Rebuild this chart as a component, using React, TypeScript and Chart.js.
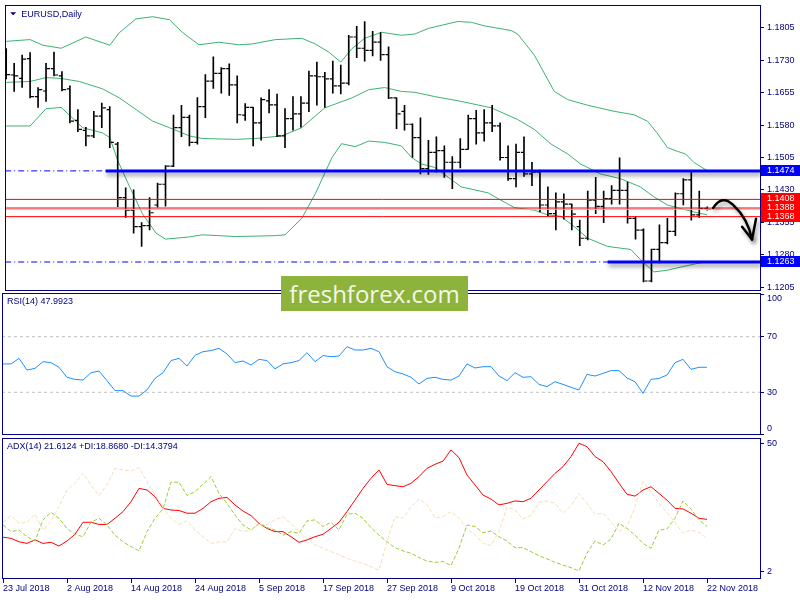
import React, { useEffect, useRef } from "react";
import { Chart, registerables } from "chart.js";

Chart.register(...registerables);

// ---------------- data ----------------
const dateLabels = ["23 Jul 2018", "2 Aug 2018", "14 Aug 2018", "24 Aug 2018", "5 Sep 2018", "17 Sep 2018", "27 Sep 2018", "9 Oct 2018", "19 Oct 2018", "31 Oct 2018", "12 Nov 2018", "22 Nov 2018"];
const dateTickIndex = [0, 8, 16, 24, 32, 40, 48, 56, 64, 72, 80, 88];

const opens = [
  1.1711, 1.1696, 1.1688, 1.1734, 1.1646, 1.1659, 1.1711, 1.1694, 1.1664, 1.1591,
  1.1568, 1.1555, 1.1601, 1.1616, 1.1536, 1.1412, 1.1383, 1.1345, 1.1347, 1.1395,
  1.1443, 1.1485, 1.1574, 1.1598, 1.1540, 1.1623, 1.1682, 1.1700, 1.1711, 1.1673,
  1.1603, 1.1621, 1.1585, 1.1636, 1.1627, 1.1555, 1.1595, 1.1606, 1.1631, 1.1694,
  1.1692, 1.1687, 1.1671, 1.1677, 1.1784, 1.1758, 1.1753, 1.1772, 1.1743, 1.1643,
  1.1612, 1.1582, 1.1551, 1.1479, 1.1517, 1.1521, 1.1494, 1.1494, 1.1524, 1.1595,
  1.1562, 1.1585, 1.1578, 1.1505, 1.1456, 1.1517, 1.1467, 1.1471, 1.1395, 1.1375,
  1.1402, 1.1397, 1.1345, 1.1318, 1.1406, 1.1392, 1.1410, 1.1429, 1.1429, 1.1364,
  1.1337, 1.1219, 1.1292, 1.1308, 1.1334, 1.1421, 1.1453, 1.1372, 1.1387,
];
const highs = [
  1.1757, 1.1723, 1.1742, 1.1748, 1.1667, 1.1723, 1.1749, 1.1704, 1.1671, 1.1616,
  1.1575, 1.1612, 1.1631, 1.1623, 1.1540, 1.1435, 1.1430, 1.1354, 1.1412, 1.1446,
  1.1486, 1.1603, 1.1626, 1.1603, 1.1644, 1.1697, 1.1738, 1.1713, 1.1722, 1.1694,
  1.1630, 1.1621, 1.1643, 1.1662, 1.1652, 1.1618, 1.1646, 1.1646, 1.1705, 1.1726,
  1.1702, 1.1728, 1.1719, 1.1788, 1.1809, 1.1820, 1.1797, 1.1794, 1.1761, 1.1643,
  1.1626, 1.1583, 1.1597, 1.1545, 1.1553, 1.1532, 1.1507, 1.1549, 1.1603, 1.1614,
  1.1616, 1.1626, 1.1585, 1.1532, 1.1536, 1.1553, 1.1494, 1.1476, 1.1437, 1.1423,
  1.1421, 1.1397, 1.1360, 1.1427, 1.1459, 1.1427, 1.1440, 1.1504, 1.1448, 1.1368,
  1.1340, 1.1293, 1.1349, 1.1364, 1.1423, 1.1456, 1.1473, 1.1427, 1.1391,
];
const lows = [
  1.1687, 1.1658, 1.1667, 1.1643, 1.1621, 1.1635, 1.1694, 1.1659, 1.1585, 1.1565,
  1.1532, 1.1551, 1.1574, 1.1528, 1.1391, 1.1366, 1.1330, 1.1299, 1.1337, 1.1390,
  1.1392, 1.1484, 1.1553, 1.1532, 1.1536, 1.1597, 1.1665, 1.1654, 1.1649, 1.1585,
  1.1591, 1.1532, 1.1545, 1.1608, 1.1553, 1.1528, 1.1568, 1.1575, 1.1611, 1.1626,
  1.1621, 1.1654, 1.1652, 1.1673, 1.1736, 1.1728, 1.1740, 1.1730, 1.1641, 1.1572,
  1.1568, 1.1505, 1.1467, 1.1466, 1.1471, 1.1459, 1.1433, 1.1481, 1.1524, 1.1536,
  1.1543, 1.1565, 1.1499, 1.1452, 1.1437, 1.1461, 1.1440, 1.1379, 1.1369, 1.1337,
  1.1362, 1.1337, 1.1301, 1.1314, 1.1375, 1.1354, 1.1397, 1.1397, 1.1353, 1.1316,
  1.1217, 1.1217, 1.1261, 1.1305, 1.1324, 1.1395, 1.1360, 1.1366, 1.1383,
];
const closes = [
  1.1697, 1.1694, 1.1733, 1.1646, 1.1662, 1.1711, 1.1696, 1.1662, 1.1589, 1.1570,
  1.1555, 1.1601, 1.1620, 1.1540, 1.1412, 1.1383, 1.1345, 1.1347, 1.1377, 1.1443,
  1.1485, 1.1574, 1.1598, 1.1540, 1.1623, 1.1682, 1.1700, 1.1711, 1.1673, 1.1604,
  1.1621, 1.1585, 1.1639, 1.1627, 1.1555, 1.1595, 1.1606, 1.1631, 1.1694, 1.1692,
  1.1687, 1.1671, 1.1677, 1.1784, 1.1758, 1.1753, 1.1772, 1.1743, 1.1643, 1.1606,
  1.1582, 1.1551, 1.1479, 1.1517, 1.1521, 1.1494, 1.1494, 1.1524, 1.1595, 1.1562,
  1.1585, 1.1578, 1.1505, 1.1456, 1.1517, 1.1467, 1.1471, 1.1395, 1.1375, 1.1402,
  1.1397, 1.1374, 1.1318, 1.1406, 1.1392, 1.1410, 1.1429, 1.1429, 1.1364, 1.1337,
  1.1219, 1.1292, 1.1308, 1.1334, 1.1421, 1.1453, 1.1372, 1.1387, 1.1385,
];

// Bollinger band vertices (bar index, price)
const bbUpperIdx = [0, 3, 4.6, 6.9, 10, 13, 14.2, 16.3, 18.4, 20.5, 22.1, 24.2, 26.7, 29.2, 30.9, 33.8, 37.1, 38.8, 40.5, 42, 43.4, 45, 47.1, 49.6, 51.3, 53, 56.7, 58.4, 60, 63.4, 64.2, 66.3, 68.8, 70.5, 73, 76.3, 78.8, 80.5, 81.7, 83, 84.3, 85.3, 86.3, 87.6, 88];
const bbUpperVal = [1.1774, 1.1778, 1.1765, 1.1758, 1.1784, 1.1765, 1.1794, 1.1826, 1.1831, 1.1824, 1.1795, 1.1766, 1.1772, 1.1766, 1.1768, 1.1778, 1.1781, 1.1768, 1.1749, 1.1726, 1.1757, 1.1781, 1.1795, 1.1788, 1.1791, 1.1804, 1.1820, 1.1818, 1.1810, 1.1799, 1.1791, 1.1742, 1.1658, 1.1639, 1.1626, 1.1612, 1.1604, 1.1589, 1.1562, 1.1528, 1.1519, 1.1513, 1.1494, 1.1479, 1.1475];
const bbMidIdx = [0, 3, 5, 6.9, 9.2, 12.1, 14.2, 16.3, 18.4, 20.5, 23, 24.6, 28.8, 31.3, 34.6, 37.1, 40, 43.4, 45.5, 47.5, 49.6, 51.3, 53.8, 57.1, 60.9, 64.2, 66.3, 68.4, 70.5, 72.1, 74.6, 77.1, 79.6, 81.3, 83, 84.6, 86.3, 88];
const bbMidVal = [1.1679, 1.1681, 1.1690, 1.1688, 1.1681, 1.1664, 1.1643, 1.1616, 1.1589, 1.1574, 1.1555, 1.1549, 1.1547, 1.1549, 1.1555, 1.1574, 1.1620, 1.1643, 1.1662, 1.1667, 1.1658, 1.1656, 1.1646, 1.1635, 1.1620, 1.1593, 1.1570, 1.1536, 1.1513, 1.1490, 1.1467, 1.1456, 1.1437, 1.1414, 1.1395, 1.1387, 1.1379, 1.1372];
const bbLowIdx = [0, 3, 5, 6.9, 9.6, 12.1, 13, 14, 15.5, 17.1, 18.8, 20, 23, 24.6, 28.8, 33.8, 35, 37.1, 38.8, 40.9, 42.1, 43.8, 45.5, 47.5, 49.6, 50.9, 52.1, 53.8, 55.5, 57.1, 60.5, 62.1, 63.8, 66.3, 68, 69.6, 71.3, 73, 75.5, 78.4, 79.6, 81.3, 83, 85.1, 87.1, 88];
const bbLowVal = [1.1578, 1.1578, 1.1618, 1.1621, 1.1574, 1.1562, 1.1551, 1.1498, 1.1437, 1.1375, 1.1330, 1.1316, 1.1321, 1.1326, 1.1322, 1.1324, 1.1326, 1.1364, 1.1421, 1.1505, 1.1537, 1.1530, 1.1543, 1.1540, 1.1532, 1.1505, 1.1490, 1.1482, 1.1459, 1.1437, 1.1423, 1.1406, 1.1389, 1.1383, 1.1372, 1.1369, 1.1345, 1.1318, 1.1299, 1.1292, 1.1269, 1.1240, 1.1244, 1.1253, 1.1261, 1.1263];

const rsiValues = [
  50.4, 50.4, 54.4, 46.0, 47.2, 52.0, 51.3, 48.0, 40.8, 39.3,
  38.8, 44.1, 45.3, 38.4, 31.2, 31.2, 27.3, 27.3, 31.7, 40.0,
  44.1, 52.8, 54.4, 48.9, 56.6, 59.2, 60.0, 61.6, 57.6, 51.3,
  52.5, 49.6, 53.7, 52.8, 46.8, 50.4, 51.3, 52.8, 58.5, 52.0,
  56.4, 55.6, 56.1, 62.8, 60.4, 60.4, 61.6, 59.2, 48.4, 44.8,
  43.2, 40.8, 36.0, 40.0, 40.8, 39.3, 38.8, 41.7, 50.4, 47.5,
  48.4, 48.4, 41.7, 38.4, 44.1, 40.8, 41.2, 35.7, 34.1, 37.6,
  35.7, 33.6, 31.7, 42.9, 41.7, 43.6, 45.6, 45.6, 40.3, 37.6,
  29.3, 39.3, 40.0, 42.4, 51.3, 53.7, 46.5, 48.0, 48.0,
];
const adxValues = [
  14.9, 14.5, 13.2, 12.6, 13.9, 12.6, 13.0, 11.6, 13.5, 16.0,
  20.5, 20.5, 19.7, 19.7, 22.0, 24.5, 28.2, 33.2, 32.6, 30.1,
  25.7, 25.1, 24.9, 23.9, 23.9, 25.7, 28.2, 29.5, 29.8, 27.0,
  24.7, 23.0, 20.1, 18.2, 17.0, 17.0, 15.1, 13.0, 13.9, 15.1,
  16.0, 18.2, 20.5, 24.5, 28.8, 33.2, 37.0, 40.1, 34.7, 34.2,
  33.8, 35.1, 37.6, 40.7, 42.2, 43.4, 47.6, 44.7, 38.2, 34.5,
  30.7, 29.2, 27.0, 27.6, 28.5, 28.2, 29.5, 32.6, 35.7, 38.8,
  41.3, 45.1, 50.1, 48.8, 45.1, 43.2, 39.5, 35.1, 31.0, 30.3,
  32.6, 33.8, 31.3, 28.8, 25.7, 25.5, 23.9, 22.0, 21.6,
];
const plusDiValues = [
  19.5, 17.0, 17.6, 15.1, 13.5, 21.4, 24.2, 22.0, 18.2, 16.0,
  15.1, 20.5, 22.0, 19.5, 15.7, 13.2, 11.4, 9.8, 17.0, 22.0,
  25.5, 35.5, 35.5, 30.5, 32.0, 34.7, 37.6, 31.3, 27.6, 23.2,
  19.5, 17.6, 20.1, 18.5, 17.6, 15.7, 17.0, 16.4, 21.0, 21.4,
  18.9, 20.5, 17.6, 23.5, 23.9, 22.0, 18.5, 15.7, 13.2, 11.0,
  9.8, 8.9, 7.3, 6.0, 5.5, 5.8, 4.3, 10.8, 19.5, 18.9,
  16.6, 17.2, 15.1, 13.5, 11.0, 11.0, 9.5, 8.0, 6.8, 5.5,
  4.5, 3.5, 2.3, 8.9, 13.5, 12.0, 14.2, 20.1, 18.2, 15.7,
  12.6, 10.8, 17.6, 18.0, 22.0, 28.5, 25.5, 21.4, 18.9,
];
const minusDiValues = [
  20.5, 23.0, 20.1, 20.5, 23.5, 17.6, 21.0, 26.4, 32.6, 35.1,
  38.8, 34.5, 30.5, 34.5, 40.7, 40.1, 39.7, 41.0, 35.7, 30.7,
  26.0, 22.0, 19.7, 21.0, 17.6, 15.1, 12.6, 13.2, 13.2, 18.2,
  17.0, 17.6, 19.7, 19.7, 21.4, 22.6, 20.1, 17.0, 14.5, 12.0,
  10.8, 9.5, 8.3, 7.0, 6.0, 5.1, 3.9, 2.6, 13.2, 22.6,
  22.0, 26.3, 29.2, 27.2, 22.2, 22.6, 24.5, 22.0, 18.2, 15.7,
  12.6, 11.8, 17.0, 26.3, 25.1, 21.7, 23.2, 28.0, 28.5, 27.6,
  23.9, 26.7, 31.3, 27.6, 23.5, 23.9, 20.7, 17.0, 18.9, 26.3,
  35.7, 32.0, 27.6, 24.2, 20.5, 16.4, 17.6, 16.7, 14.4,
];

const priceTicks = [1.1805, 1.173, 1.1655, 1.158, 1.1505, 1.143, 1.1355, 1.128, 1.1205];
const blueLevels = [1.1474, 1.1263];
const blueThickStart = [12.5, 75.5];
const redLevels = [1.1408, 1.1388, 1.1368];
const lastPrice = 1.1385;
const rsiTicks = [0, 30, 70, 100];
const rsiLevels = [70, 30];
const adxTicks = [2, 50];
const arrowIdx = [88.75, 89.875, 91.25, 93.125, 93.625, 92.375, 94.125];
const arrowPrice = [1.13882, 1.14203, 1.13951, 1.1363, 1.13149, 1.13447, 1.1363];

const titleText = "EURUSD,Daily";
const rsiTitle = "RSI(14) 47.9923";
const adxTitle = "ADX(14) 21.6124 +DI:18.8680 -DI:14.3794";

// ---------------- styling ----------------
const X_MIN = -0.125;
const X_MAX = 94.625;
const PRICE_MIN = 1.119584;
const PRICE_MAX = 1.185767;
const RSI_MIN = -0.7;
const RSI_MAX = 101.4;
const ADX_MIN = -0.733;
const ADX_MAX = 52.06;
const NAVY = "#000080";
const FAMILY = '"Liberation Sans", Arial, sans-serif';
const FONT = { family: FAMILY, size: 9 };
const BB_COLOR = "#3cb371";

Chart.defaults.font.family = FAMILY;

function hLine(y: number, color: string, width: number, dash: number[], x0: number, order: number) {
  return {
    type: "line",
    data: [{ x: x0, y }, { x: X_MAX, y }],
    borderColor: color,
    borderWidth: width,
    borderDash: dash,
    pointRadius: 0,
    order,
  } as any;
}

function series(values: number[], color: string, dash: number[], order: number) {
  return {
    type: "line",
    data: values.map((v, i) => ({ x: i, y: v })),
    borderColor: color,
    borderWidth: 1,
    borderDash: dash,
    pointRadius: 0,
    tension: 0,
    order,
  } as any;
}

function knots(xs: number[], ys: number[]) {
  return {
    type: "line",
    data: xs.map((x, i) => ({ x, y: ys[i] })),
    borderColor: BB_COLOR,
    borderWidth: 1,
    pointRadius: 0,
    tension: 0,
    order: 9,
  } as any;
}

const framePlugin = {
  id: "frame",
  afterDraw(chart: any) {
    const { ctx, chartArea: a } = chart;
    ctx.save();
    ctx.strokeStyle = NAVY;
    ctx.lineWidth = 1;
    const l = Math.round(a.left) + 0.5;
    const r = Math.round(a.right) + 0.5;
    const t = Math.round(a.top) + 0.5;
    const b = Math.round(a.bottom) - 0.5;
    ctx.strokeRect(l, t, r - l, b - t);
    ctx.restore();
  },
};

const shadowPlugin = {
  id: "shadowLines",
  beforeDatasetDraw(chart: any, args: any) {
    const ds = chart.data.datasets[args.index];
    if (ds.shadow) {
      const c = chart.ctx;
      c.save();
      c.shadowColor = "rgba(0,0,0,0.45)";
      c.shadowBlur = 4;
      c.shadowOffsetX = 1;
      c.shadowOffsetY = 3;
    }
  },
  afterDatasetDraw(chart: any, args: any) {
    const ds = chart.data.datasets[args.index];
    if (ds.shadow) chart.ctx.restore();
  },
};

const priceOverlay = {
  id: "priceOverlay",
  afterDraw(chart: any) {
    const { ctx, chartArea: a, scales } = chart;
    const xs = scales.x;
    const ys = scales.y;
    ctx.save();
    ctx.fillStyle = NAVY;
    ctx.beginPath();
    ctx.moveTo(a.left + 5, a.top + 7);
    ctx.lineTo(a.left + 11, a.top + 7);
    ctx.lineTo(a.left + 8, a.top + 10);
    ctx.closePath();
    ctx.fill();
    ctx.font = `9px ${FAMILY}`;
    ctx.textBaseline = "middle";
    ctx.textAlign = "left";
    ctx.fillText(titleText, a.left + 16, a.top + 9);
    const boxes: [number, string][] = [
      ...blueLevels.map((v) => [v, "#0000ff"] as [number, string]),
      ...redLevels.map((v) => [v, "#ff0000"] as [number, string]),
    ];
    for (const [v, c] of boxes) {
      const y = ys.getPixelForValue(v);
      ctx.fillStyle = c;
      ctx.fillRect(a.right + 1, Math.round(y) - 6, 39, 11);
      ctx.fillStyle = "#ffffff";
      ctx.fillText(v.toFixed(4), a.right + 7, Math.round(y) - 0.5);
    }
    const p = arrowIdx.map((x, k) => [xs.getPixelForValue(x), ys.getPixelForValue(arrowPrice[k])]);
    ctx.strokeStyle = "#000";
    ctx.lineWidth = 2.5;
    ctx.lineCap = "round";
    ctx.lineJoin = "round";
    ctx.shadowColor = "rgba(0,0,0,0.4)";
    ctx.shadowBlur = 4;
    ctx.shadowOffsetX = 2;
    ctx.shadowOffsetY = 3;
    ctx.beginPath();
    ctx.moveTo(p[0][0], p[0][1]);
    ctx.quadraticCurveTo(p[1][0], p[1][1], p[2][0], p[2][1]);
    ctx.quadraticCurveTo(p[3][0], p[3][1], p[4][0], p[4][1]);
    ctx.stroke();
    ctx.beginPath();
    ctx.moveTo(p[5][0], p[5][1]);
    ctx.lineTo(p[4][0], p[4][1]);
    ctx.lineTo(p[6][0], p[6][1]);
    ctx.stroke();
    ctx.restore();
  },
};

const rsiOverlay = {
  id: "rsiOverlay",
  afterDraw(chart: any) {
    const { ctx, chartArea: a, scales } = chart;
    ctx.save();
    ctx.fillStyle = NAVY;
    ctx.font = `9px ${FAMILY}`;
    ctx.textBaseline = "middle";
    ctx.textAlign = "left";
    ctx.fillText(rsiTitle, a.left + 5, a.top + 9);
    const ys = scales.y;
    ctx.fillText("100", a.right + 7, ys.getPixelForValue(100) + 4);
    ctx.fillText("0", a.right + 7, ys.getPixelForValue(0) - 6);
    ctx.restore();
  },
};

const adxOverlay = {
  id: "adxOverlay",
  afterDraw(chart: any) {
    const { ctx, chartArea: a } = chart;
    ctx.save();
    ctx.fillStyle = NAVY;
    ctx.font = `9px ${FAMILY}`;
    ctx.textBaseline = "middle";
    ctx.textAlign = "left";
    ctx.fillText(adxTitle, a.left + 5, a.top + 9);
    ctx.restore();
  },
};

function yAxis(min: number, max: number, ticks: number[], cb: (v: number) => string) {
  return {
    type: "linear",
    position: "right",
    min,
    max,
    afterBuildTicks: (s: any) => {
      s.ticks = ticks.map((v) => ({ value: v }));
    },
    afterFit: (s: any) => {
      s.width = 40;
      s.paddingTop = 0;
      s.paddingBottom = 0;
    },
    ticks: { autoSkip: false, padding: 3, color: NAVY, font: FONT, callback: (v: any) => cb(Number(v)) },
    grid: { drawOnChartArea: false, drawTicks: true, tickLength: 4, color: NAVY },
    border: { display: false },
  } as any;
}

const hiddenX = { type: "linear", min: X_MIN, max: X_MAX, display: false, offset: false } as any;

const baseOptions = {
  responsive: false,
  maintainAspectRatio: false,
  animation: false,
  devicePixelRatio: 1,
  events: [],
  plugins: { legend: { display: false }, tooltip: { enabled: false } },
};

function priceConfig(): any {
  return {
    type: "scatter",
    data: {
      datasets: [
        knots(bbUpperIdx, bbUpperVal),
        knots(bbMidIdx, bbMidVal),
        knots(bbLowIdx, bbLowVal),
        {
          type: "bar",
          data: opens.map((_, i) => ({ x: i, y: [lows[i], highs[i]] })),
          backgroundColor: "#000000",
          barThickness: 1,
          borderWidth: 0,
          order: 8,
        },
        {
          type: "scatter",
          data: opens.map((o, i) => ({ x: i - 0.1875, y: o })),
          pointStyle: "line",
          pointRadius: 1.6,
          pointBorderColor: "#000000",
          pointBackgroundColor: "#000000",
          pointBorderWidth: 1.2,
          order: 7,
        },
        {
          type: "scatter",
          data: closes.map((c, i) => ({ x: i + 0.3125, y: c })),
          pointStyle: "line",
          pointRadius: 1.6,
          pointBorderColor: "#000000",
          pointBackgroundColor: "#000000",
          pointBorderWidth: 1.2,
          order: 7,
        },
        hLine(lastPrice, "#c0c0c0", 1, [], X_MIN, 6),
        ...redLevels.map((v) => hLine(v, "#ff0000", 1, [], X_MIN, 5)),
        ...blueLevels.map((v) => hLine(v, "#0000ff", 1, [6, 3, 1, 3], X_MIN, 4)),
        ...blueLevels.map((v, k) => ({ ...hLine(v, "#0000ff", 3, [], blueThickStart[k], 3), shadow: true })),
      ],
    },
    options: {
      ...baseOptions,
      layout: { padding: { left: 2, top: 2, right: 0, bottom: 9 } },
      scales: {
        x: hiddenX,
        y: yAxis(PRICE_MIN, PRICE_MAX, priceTicks, (v) => v.toFixed(4)),
      },
    },
    plugins: [shadowPlugin, framePlugin, priceOverlay],
  };
}

function rsiConfig(): any {
  return {
    type: "scatter",
    data: {
      datasets: [
        ...rsiLevels.map((v) => hLine(v, "#c0c0c0", 1, [3, 3], X_MIN, 2)),
        series(rsiValues, "#1e90ff", [], 1),
      ],
    },
    options: {
      ...baseOptions,
      layout: { padding: { left: 2, top: 9, right: 0, bottom: 9 } },
      scales: {
        x: hiddenX,
        y: yAxis(RSI_MIN, RSI_MAX, rsiTicks, (v) => (v === 0 || v === 100 ? "" : String(v))),
      },
    },
    plugins: [framePlugin, rsiOverlay],
  };
}

function adxConfig(): any {
  return {
    type: "scatter",
    data: {
      datasets: [
        series(adxValues, "#ff0000", [], 3),
        series(plusDiValues, "#9acd32", [4, 2], 2),
        series(minusDiValues, "#f5deb3", [4, 2], 1),
      ],
    },
    options: {
      ...baseOptions,
      layout: { padding: { left: 2, top: 10, right: 0, bottom: 0 } },
      scales: {
        x: {
          type: "linear",
          position: "bottom",
          min: X_MIN,
          max: X_MAX,
          offset: false,
          afterBuildTicks: (s: any) => {
            s.ticks = dateTickIndex.map((v) => ({ value: v }));
          },
          afterFit: (s: any) => {
            s.height = 21;
            s.paddingLeft = 0;
            s.paddingRight = 0;
          },
          ticks: {
            autoSkip: false,
            maxRotation: 0,
            minRotation: 0,
            align: "start",
            padding: 0,
            color: NAVY,
            font: FONT,
            callback: (v: any) => dateLabels[dateTickIndex.indexOf(Number(v))],
          },
          grid: { drawOnChartArea: false, drawTicks: true, tickLength: 4, color: NAVY },
          border: { display: false },
        },
        y: yAxis(ADX_MIN, ADX_MAX, adxTicks, (v) => String(v)),
      },
    },
    plugins: [framePlugin, adxOverlay],
  };
}

export default function App() {
  const refA = useRef<HTMLCanvasElement>(null);
  const refB = useRef<HTMLCanvasElement>(null);
  const refC = useRef<HTMLCanvasElement>(null);

  useEffect(() => {
    const charts = [
      new Chart(refA.current as HTMLCanvasElement, priceConfig()),
      new Chart(refB.current as HTMLCanvasElement, rsiConfig()),
      new Chart(refC.current as HTMLCanvasElement, adxConfig()),
    ];
    return () => charts.forEach((c) => c.destroy());
  }, []);

  const wmStyle: any = {
    position: "absolute",
    left: 281,
    top: 276,
    width: 187,
    height: 35,
    background: "#8db33c",
    color: "#f3f7ea",
    font: '24px "Open Sans", sans-serif',
    lineHeight: "35px",
    textAlign: "center",
    whiteSpace: "nowrap",
  };

  return (
    <div style={{ position: "fixed", left: 0, top: 0, width: 800, height: 600, background: "#ffffff", overflow: "hidden" }}>
      <canvas ref={refA} width={800} height={300} style={{ position: "absolute", left: 0, top: 0 }} />
      <canvas ref={refB} width={800} height={160} style={{ position: "absolute", left: 0, top: 284 }} />
      <canvas ref={refC} width={800} height={172} style={{ position: "absolute", left: 0, top: 428 }} />
      <div style={wmStyle}>freshforex.com</div>
    </div>
  );
}
